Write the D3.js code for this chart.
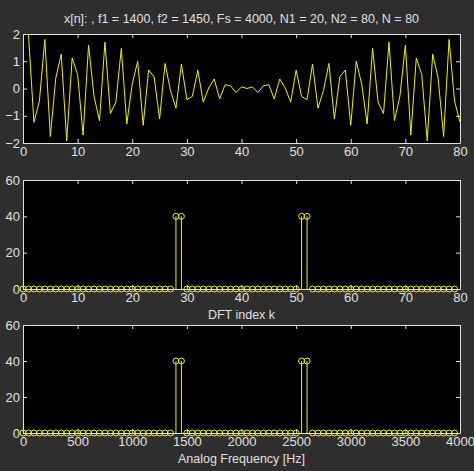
<!DOCTYPE html>
<html><head><meta charset="utf-8">
<script src="https://cdn.jsdelivr.net/npm/d3@7"></script>
<style>
body{margin:0;background:#2e2e2e;}
text{font-family:"Liberation Sans",Arial,sans-serif;}
</style></head><body>
<div id="chart"></div>
<script>
// signal samples x[1..80]
const xn = [2.00,-1.24,-0.46,1.80,-1.76,0.38,1.26,-1.92,1.12,0.51,
  -1.71,1.59,-0.28,-1.18,1.70,-0.92,-0.50,1.47,-1.30,0.17,
  1.00,-1.35,0.68,0.43,-1.12,0.92,-0.08,-0.72,0.90,-0.41,
  -0.29,0.67,-0.50,0.02,0.35,-0.38,0.14,0.10,-0.15,0.06,
  0.00,0.06,-0.15,0.10,0.14,-0.38,0.35,0.02,-0.50,0.67,
  -0.29,-0.41,0.90,-0.72,-0.08,0.92,-1.12,0.43,0.68,-1.35,
  1.00,0.17,-1.30,1.47,-0.50,-0.92,1.70,-1.18,-0.28,1.59,
  -1.71,1.12,0.51,-1.92,1.26,0.38,-1.76,1.80,-0.46,-1.24];
// |X[k]| for k=0..79
const dftMag = [0,0,0,0,0,0,0,0,0,0, 0,0,0,0,0,0,0,0,0,0,
  0,0,0,0,0,0,0,0,40,40, 0,0,0,0,0,0,0,0,0,0,
  0,0,0,0,0,0,0,0,0,0, 0,40,40,0,0,0,0,0,0,0,
  0,0,0,0,0,0,0,0,0,0, 0,0,0,0,0,0,0,0,0,0];
const binHz = 50;
const title = 'x[n]: , f1 = 1400, f2 = 1450, Fs = 4000, N1 = 20, N2 = 80, N = 80';

const W = 474, H = 471;
const left = 23, right = 460;
const fg = '#e0e0e0', yel = '#f0f000';
const svg = d3.select('#chart').append('svg').attr('width', W).attr('height', H);

function panel(top, bottom, xDom, xTicks, yDom, yTicks, xlabel) {
  const x = d3.scaleLinear().domain(xDom).range([left, right]);
  const y = d3.scaleLinear().domain(yDom).range([bottom, top]);
  svg.append('rect').attr('x', left).attr('y', top).attr('width', right - left)
    .attr('height', bottom - top).attr('fill', '#000');
  const g = svg.append('g');
  const ax = (gen, tr) => {
    const a = g.append('g').attr('transform', tr).call(gen);
    a.select('.domain').attr('stroke', fg);
    a.selectAll('line').attr('stroke', fg);
    a.selectAll('text').attr('fill', fg).attr('font-size', 13);
    return a;
  };
  ax(d3.axisBottom(x).tickValues(xTicks).tickSize(-4).tickPadding(4).tickSizeOuter(0).tickFormat(d3.format('d')), `translate(0,${bottom})`);
  ax(d3.axisTop(x).tickValues(xTicks).tickSize(-4).tickFormat('').tickSizeOuter(0), `translate(0,${top})`);
  ax(d3.axisLeft(y).tickValues(yTicks).tickSize(-4).tickPadding(3).tickSizeOuter(0).tickFormat(d3.format('d')), `translate(${left},0)`);
  ax(d3.axisRight(y).tickValues(yTicks).tickSize(-4).tickFormat('').tickSizeOuter(0), `translate(${right},0)`);
  if (xlabel) svg.append('text').attr('x', (left + right) / 2).attr('y', bottom + 30)
    .attr('text-anchor', 'middle').attr('fill', fg).attr('font-size', 12.5).text(xlabel);
  return {x, y, g: svg.append('g')};
}

// top: time signal
const p1 = panel(34, 143, [0, 80], d3.range(0, 81, 10), [-2, 2], [-2, -1, 0, 1, 2], null);
p1.g.append('path').datum(xn)
  .attr('d', d3.line().x((d, i) => p1.x(i + 1)).y(d => p1.y(d)))
  .attr('fill', 'none').attr('stroke', yel).attr('stroke-width', 1);
svg.append('text').attr('x', (left + right) / 2).attr('y', 23).attr('text-anchor', 'middle')
  .attr('fill', fg).attr('font-size', 12.5).text(title);

function stems(p, xs) {
  p.g.selectAll('line.s').data(dftMag).join('line')
    .attr('x1', (d, i) => p.x(xs(i))).attr('x2', (d, i) => p.x(xs(i)))
    .attr('y1', p.y(0)).attr('y2', d => p.y(d))
    .attr('stroke', yel).attr('stroke-width', 1);
  p.g.selectAll('circle').data(dftMag).join('circle')
    .attr('cx', (d, i) => p.x(xs(i))).attr('cy', d => p.y(d)).attr('r', 3)
    .attr('fill', 'none').attr('stroke', yel).attr('stroke-width', 1);
}

const p2 = panel(180, 289, [0, 80], d3.range(0, 81, 10), [0, 60], [0, 20, 40, 60], 'DFT index k');
stems(p2, i => i);
const p3 = panel(325, 433, [0, 4000], d3.range(0, 4001, 500), [0, 60], [0, 20, 40, 60], 'Analog Frequency [Hz]');
stems(p3, i => i * binHz);
</script></body></html>
